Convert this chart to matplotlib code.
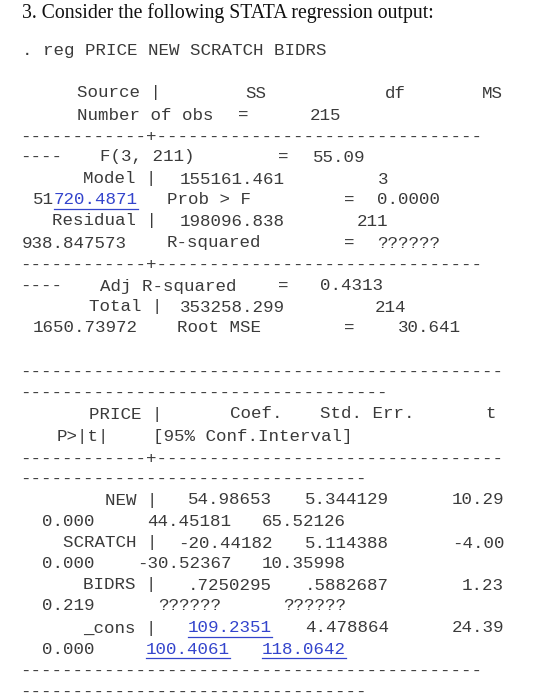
import matplotlib
matplotlib.use("Agg")
import matplotlib.pyplot as plt

header = "3. Consider the following STATA regression output:"
command = ". reg PRICE NEW SCRATCH BIDRS"

# (y, [(x, text, style)])  style: 'k' normal, 'u' blue underlined
rows = [
    (93, [(77, "Source |", 'k'), (245, "SS", 'k'), (385, "df", 'k'), (482, "MS", 'k')]),
    (115, [(77, "Number of obs", 'k'), (238, "=", 'k'), (310, "215", 'k')]),
    (136, [(20, "-" * 12 + "+" + "-" * 31, 'k')]),
    (157, [(20, "----", 'k'), (100, "F(3, 211)", 'k'), (278, "=", 'k'), (313, "55.09", 'k')]),
    (179, [(83, "Model |", 'k'), (180, "155161.461", 'k'), (378, "3", 'k')]),
    (200, [(33, "51", 'k'), (54, "720.4871", 'u'), (167, "Prob > F", 'k'), (344, "=", 'k'), (377, "0.0000", 'k')]),
    (221, [(52, "Residual |", 'k'), (180, "198096.838", 'k'), (357, "211", 'k')]),
    (243, [(22, "938.847573", 'k'), (167, "R-squared", 'k'), (344, "=", 'k'), (377, "??????", 'k')]),
    (265, [(20, "-" * 12 + "+" + "-" * 31, 'k')]),
    (286, [(20, "----", 'k'), (100, "Adj R-squared", 'k'), (278, "=", 'k'), (320, "0.4313", 'k')]),
    (307, [(89, "Total |", 'k'), (180, "353258.299", 'k'), (375, "214", 'k')]),
    (328, [(33, "1650.73972", 'k'), (177, "Root MSE", 'k'), (344, "=", 'k'), (398, "30.641", 'k')]),
    (372, [(20, "-" * 46, 'k')]),
    (393, [(20, "-" * 35, 'k')]),
    (414, [(89, "PRICE |", 'k'), (230, "Coef.", 'k'), (320, "Std. Err.", 'k'), (485, "t", 'k')]),
    (436, [(57, "P>|t|", 'k'), (153, "[95% Conf.Interval]", 'k')]),
    (458, [(20, "-" * 12 + "+" + "-" * 33, 'k')]),
    (479, [(20, "-" * 33, 'k')]),
    (500, [(105, "NEW |", 'k'), (188, "54.98653", 'k'), (305, "5.344129", 'k'), (452, "10.29", 'k')]),
    (521, [(42, "0.000", 'k'), (147, "44.45181", 'k'), (262, "65.52126", 'k')]),
    (543, [(63, "SCRATCH |", 'k'), (178, "-20.44182", 'k'), (305, "5.114388", 'k'), (452, "-4.00", 'k')]),
    (564, [(42, "0.000", 'k'), (137, "-30.52367", 'k'), (262, "10.35998", 'k')]),
    (585, [(83, "BIDRS |", 'k'), (188, ".7250295", 'k'), (305, ".5882687", 'k'), (462, "1.23", 'k')]),
    (606, [(42, "0.219", 'k'), (158, "??????", 'k'), (283, "??????", 'k')]),
    (628, [(83, "_cons |", 'k'), (188, "109.2351", 'u'), (305, "4.478864", 'k'), (452, "24.39", 'k')]),
    (649, [(42, "0.000", 'k'), (146, "100.4061", 'u'), (262, "118.0642", 'u')]),
    (671, [(20, "-" * 44, 'k')]),
    (692, [(20, "-" * 33, 'k')]),
]

fig = plt.figure(figsize=(5.51, 7.0), dpi=100)
ax = fig.add_axes([0, 0, 1, 1])
ax.set_xlim(0, 551)
ax.set_ylim(700, 0)
ax.axis('off')

ax.text(22, 13, header, family="Liberation Serif", fontsize=14.2, color="#111111", va='center')
ax.text(22, 50, command, family="Liberation Mono", fontsize=12.6, color="#3a3a3a", va='center')

CW = 10.5
for y, toks in rows:
    for x, t, st in toks:
        col = "#3344cc" if st == 'u' else "#3a3a3a"
        ax.text(x, y, t, family="Liberation Mono", fontsize=12.6, color=col, va='center')
        if st == 'u':
            ax.plot([x, x + len(t) * CW], [y + 9, y + 9], color=col, lw=0.9)

fig.savefig("out.png", dpi=100)
